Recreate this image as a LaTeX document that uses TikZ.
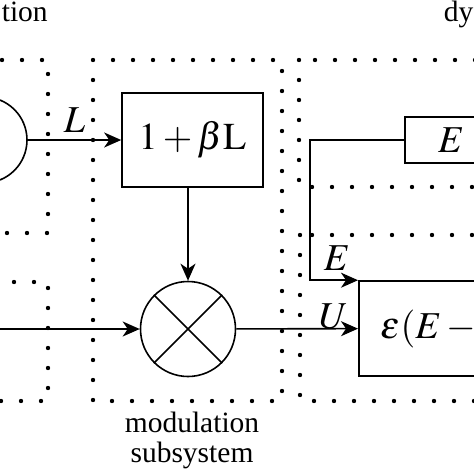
\documentclass[tikz,border=0pt]{standalone}
\usepackage{mathptmx}
\usepackage{fontspec}
\setmainfont{Liberation Serif}
\usetikzlibrary{arrows.meta}

\begin{document}
\begin{tikzpicture}[x=1pt,y=-1pt,line width=1.6pt,
    >={Stealth[length=17pt,width=15pt,inset=5pt]},
    block/.style={draw,rectangle,inner sep=0pt,font=\fontsize{38}{40}\selectfont},
    region/.style={draw,line width=4.4pt,line cap=round,dash pattern=on 0pt off 20pt},
    sig/.style={inner sep=0pt,font=\fontsize{38}{40}\selectfont},
    caption/.style={inner sep=0pt,font=\fontsize{29.5}{30}\selectfont}]
  \clip (0,0) rectangle (474,474);

  \draw[region] (-60,60) rectangle (48,233);
  \draw[region] (-60,282) rectangle (48,401);
  \draw[region] (93,60) rectangle (282,401);
  \draw[region] (299,60) rectangle (540,187);
  \draw[region] (300,235) rectangle (540,401);

  \node[caption,anchor=base west] (tion) at (1,21) {tion};
  \node[caption,anchor=base west] (dyn) at (443,21) {dy};
  \node[caption,anchor=north,align=center] (modlbl) at (192,411) {modulation\\subsystem};

  \node[circle,draw,minimum size=86pt,inner sep=0pt] (src) at (-16,140) {};
  \node[block,minimum width=141pt,minimum height=94pt] (gain) at (192.5,140) {$1+\beta\mathrm{L}$};
  \node[circle,draw,minimum size=95pt,inner sep=0pt] (mult) at (188,329) {};
  \draw (mult.north west) -- (mult.south east)
        (mult.north east) -- (mult.south west);
  \node[block,minimum width=92pt,minimum height=46pt] (ebox) at (451,140) {$E$};
  \node[block,anchor=west,minimum height=95pt,inner xsep=22pt] (eps) at (358,328.5) {$\varepsilon(E -{}$};

  \coordinate (in) at (0,329);
  \coordinate (fb) at (310,140);

  \draw[->] (src) -- (gain) node[sig,midway,above=7pt] {$L$};
  \draw[->] (gain.south -| mult) -- (mult);
  \draw[->] (in) -- (mult);
  \draw[->] (mult) -- (eps) node[sig,pos=0.8,anchor=base] {$U$};
  \draw[->] (ebox.west) -- (fb) -- (fb |- eps.north west) -- (eps.north west)
        node[sig,pos=0.56,above=9pt] {$E$};
\end{tikzpicture}
\end{document}
